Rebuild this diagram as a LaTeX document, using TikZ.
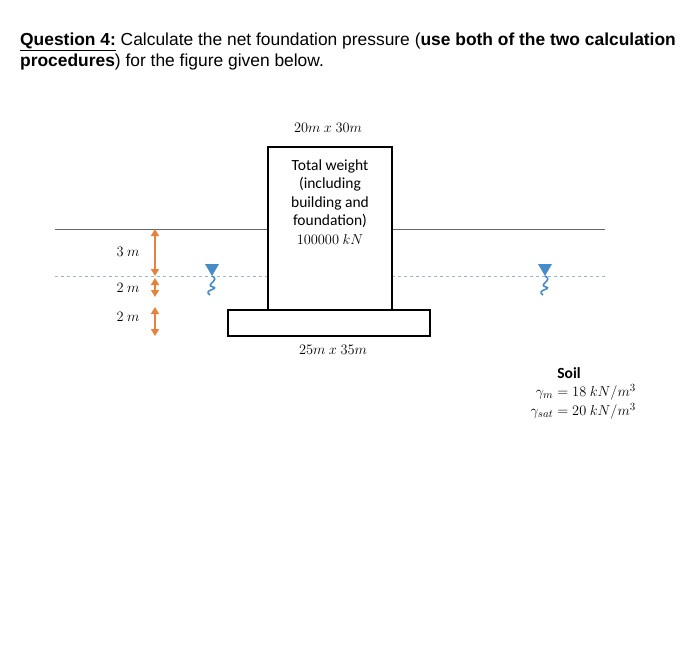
\documentclass[tikz,border=0pt]{standalone}
\usepackage{fontspec}
\setmainfont{Carlito}
\newfontfamily\arialf{Liberation Sans}
\usetikzlibrary{arrows.meta}
\definecolor{orng}{RGB}{230,130,60}
\definecolor{wblue}{RGB}{70,140,200}
\definecolor{dashc}{RGB}{160,180,200}
\tikzset{
 ln/.style={draw=black!60,line width=1pt},
 wl/.style={draw=dashc,dashed,line width=0.7pt},
 box/.style={draw=black,line width=1.3pt},
 dim/.style={draw=orng,line width=1.6pt,{Triangle[length=7pt,width=8pt]}-{Triangle[length=7pt,width=8pt]}},
 lab/.style={font=\fontsize{15.5}{18}\selectfont,inner sep=0pt}
}
\newcommand{\wsym}[2]{%
 \fill[wblue] (#1-7,#2-12) -- (#1+7,#2-12) -- (#1,#2) -- cycle;
 \draw[wblue,line width=1.6pt] (#1,#2) .. controls (#1+9,#2+4) and (#1-8,#2+9) .. (#1+1,#2+11) .. controls (#1+8,#2+13) and (#1-10,#2+14) .. (#1-2,#2+19);
}
\begin{document}
\begin{tikzpicture}[x=1pt,y=-1pt]
\useasboundingbox (0,0) rectangle (700,648);
\node[anchor=west,inner sep=0pt,font=\arialf\fontsize{17.4}{20}\selectfont] (t1) at (20,42) {\textbf{\underline{Question 4:}} Calculate the net foundation pressure (\textbf{use both of the two calculation}};
\node[anchor=west,inner sep=0pt,font=\arialf\fontsize{17.4}{20}\selectfont] (t2) at (20,62) {\textbf{procedures}) for the figure given below.};
\draw[ln] (55,229) -- (268,229);
\draw[ln] (392,229) -- (605,229);
\draw[wl] (55,276) -- (268,276);
\draw[wl] (392,276) -- (605,276);
\node[box,minimum width=124pt,minimum height=163pt,inner sep=0pt] (bld) at (330,228.5) {};
\node[box,fill=white,minimum width=202pt,minimum height=26pt,inner sep=0pt] (ftg) at (329,323) {};
\node[lab,align=center] (txt) at (330,202) {Total weight\\[0.5pt] (including\\[0.5pt] building and\\[0.5pt] foundation)\\[0.5pt] $100000\ kN$};
\node[lab] (top) at (328,128) {$20m\ x\ 30m$};
\node[lab] (bot) at (333,350) {$25m\ x\ 35m$};
\coordinate (a1) at (155,229); \coordinate (a2) at (155,276);
\coordinate (b1) at (155,278); \coordinate (b2) at (155,297);
\coordinate (c1) at (155,307); \coordinate (c2) at (155,336);
\draw[dim] (a1) -- (a2);
\draw[dim] (b1) -- (b2);
\draw[dim] (c1) -- (c2);
\node[lab] (l3) at (128,252) {$3\ m$};
\node[lab] (l2a) at (128,288) {$2\ m$};
\node[lab] (l2b) at (128,317) {$2\ m$};
\wsym{212}{276}
\wsym{545}{276}
\node[lab] (soil) at (569,373) {\textbf{Soil}};
\node[lab,anchor=east] (g1) at (636,392) {$\gamma_m = 18\ kN/m^3$};
\node[lab,anchor=east] (g2) at (636,411) {$\gamma_{sat} = 20\ kN/m^3$};
\end{tikzpicture}
\end{document}
